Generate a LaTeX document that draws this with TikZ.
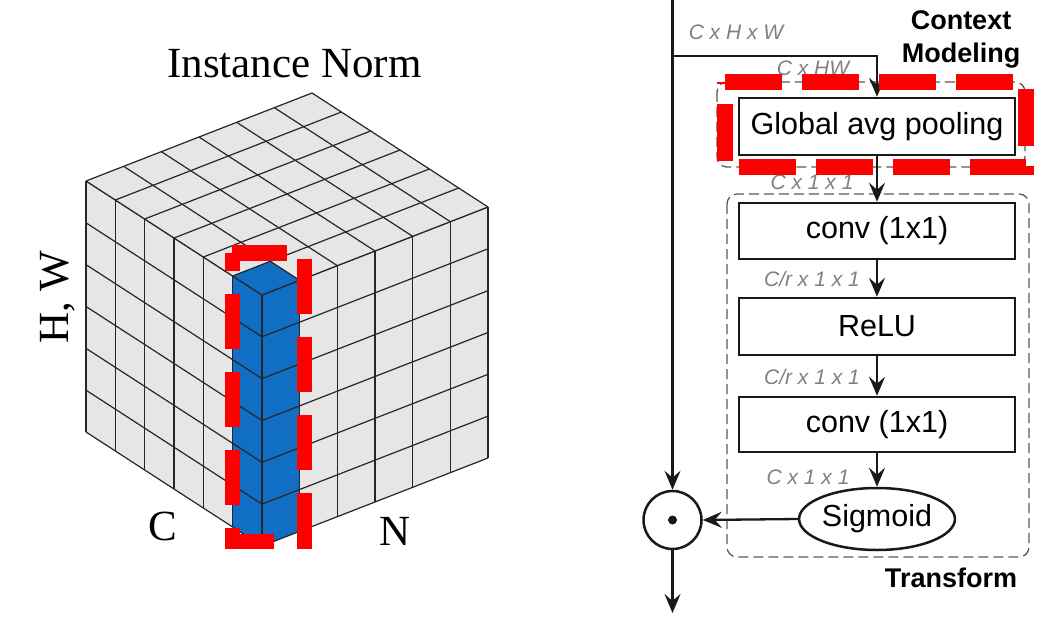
\documentclass[tikz,border=0pt]{standalone}
\usepackage{fontspec}
\setmainfont{Liberation Serif}
\setsansfont{Liberation Sans}
\usetikzlibrary{arrows.meta,shapes.geometric}
\definecolor{cubegray}{RGB}{230,230,230}
\definecolor{cubeblue}{RGB}{16,110,196}
\definecolor{lblgray}{RGB}{128,128,128}
\definecolor{boxline}{RGB}{25,25,25}
\definecolor{redbox}{RGB}{255,0,0}
\begin{document}
\begin{tikzpicture}[x=1pt,y=-1pt,
  arr/.style={draw=boxline, line width=2.3pt, -{Stealth[length=19pt,width=16pt,inset=7pt]}},
  blk/.style={draw=boxline, line width=2.5pt, minimum width=276pt, minimum height=56pt, inner sep=0pt, font=\sffamily\fontsize{30.5}{30.5}\selectfont},
  dim/.style={text=lblgray, font=\sffamily\itshape\fontsize{21}{21}\selectfont, inner sep=0pt},
  ttl/.style={font=\sffamily\bfseries\fontsize{27}{27}\selectfont, inner sep=0pt, anchor=base},
  ser/.style={font=\fontsize{43}{43}\selectfont, inner sep=0pt, anchor=base},
  grp/.style={draw=black!65, line width=1.3pt, dash pattern=on 10pt off 5pt, rounded corners=10pt},
  redd/.style={draw=redbox, line width=16pt},
  gridl/.style={draw=black!85, line width=1.2pt}
]
\useasboundingbox (0,0) rectangle (1059,628);

% ---------------- cube ----------------
% left face (C direction)
\begin{scope}[shift={(262,295)}, x={(-29.333pt,19pt)}, y={(0pt,-41.833pt)}]
  \fill[cubegray] (0,0) -- (6,0) -- (6,6) -- (0,6) -- cycle;
  \fill[cubeblue] (0,0) -- (1,0) -- (1,6) -- (0,6) -- cycle;
  \foreach \i in {0,...,6} {
    \draw[gridl] (\i,0) -- (\i,6);
    \draw[gridl] (0,\i) -- (6,\i);
  }
\end{scope}
% right face (N direction)
\begin{scope}[shift={(262,295)}, x={(37.667pt,14.667pt)}, y={(0pt,-41.833pt)}]
  \fill[cubegray] (0,0) -- (6,0) -- (6,6) -- (0,6) -- cycle;
  \fill[cubeblue] (0,0) -- (1,0) -- (1,6) -- (0,6) -- cycle;
  \foreach \i in {0,...,6} {
    \draw[gridl] (\i,0) -- (\i,6);
    \draw[gridl] (0,\i) -- (6,\i);
  }
\end{scope}
% top face
\begin{scope}[shift={(262,295)}, x={(-29.333pt,19pt)}, y={(37.667pt,14.667pt)}]
  \fill[cubegray] (0,0) -- (6,0) -- (6,6) -- (0,6) -- cycle;
  \fill[cubeblue] (0,0) -- (1,0) -- (1,1) -- (0,1) -- cycle;
  \foreach \i in {0,...,6} {
    \draw[gridl] (\i,0) -- (\i,6);
    \draw[gridl] (0,\i) -- (6,\i);
  }
\end{scope}
% red dashed frame round the column
\draw[redd, line width=15pt, dash pattern=on 55pt off 23pt] (232,253) -- (304,253) -- (304,541) -- (232,541) -- cycle;

% serif labels
\node[ser] (title) at (294.5,78) {Instance Norm};
\node[ser, rotate=90] (hw) at (68,297) {H, W};
\node[ser] (cl) at (163,540) {C};
\node[ser] (nl) at (395,545) {N};

% ---------------- GC block ----------------
\node[dim] (l1) at (736,32) {C x H x W};
\node[dim] (l2) at (813,68) {C x HW};
\node[dim] (l3) at (812,182) {C x 1 x 1};
\node[dim] (l4) at (812,279) {C/r x 1 x 1};
\node[dim] (l5) at (812,377) {C/r x 1 x 1};
\node[dim] (l6) at (808,477) {C x 1 x 1};

\draw[grp] (717,82) rectangle (1025,167);
\draw[grp] (727,194) rectangle (1029,557);

\node[ttl] (cm1) at (961,30) {Context};
\node[ttl] (cm2) at (961,63) {Modeling};
\node[ttl] (tr) at (951,587) {Transform};

\node[blk, minimum height=57pt] (gap) at (877,126.5) {Global avg pooling};
\node[blk] (c1) at (877,231) {conv (1x1)};
\node[blk, minimum height=57pt] (relu) at (877,326.5) {ReLU};
\node[blk, minimum height=55pt] (c2) at (877,424.5) {conv (1x1)};
\node[ellipse, draw=boxline, line width=2.5pt, minimum width=141pt, minimum height=62pt, inner sep=0pt, font=\sffamily\fontsize{30.5}{30.5}\selectfont] (sig) at (877,519) {Sigmoid};
\node[circle, draw=boxline, line width=2.5pt, minimum size=58pt, inner sep=0pt] (dot) at (672.5,520) {};
\fill[boxline] (dot.center) circle (4.5pt);

\coordinate (in) at (672.5,0);
\coordinate (br) at (672.5,56);
\coordinate (out) at (672.5,613);

\draw[arr] (in) -- (dot.north);
\draw[arr] (br) -| (gap.north);
\draw[arr] (gap.south) -- (c1.north);
\draw[arr] (c1.south) -- (relu.north);
\draw[arr] (relu.south) -- (c2.north);
\draw[arr] (c2.south) -- (sig.north);
\draw[arr] (sig.west) -- (dot.east);
\draw[arr] (dot.south) -- (out);

\draw[redd, dash pattern=on 57pt off 20pt] (725,82) -- (1026,82) -- (1026,167) -- (725,167) -- cycle;
\end{tikzpicture}
\end{document}
